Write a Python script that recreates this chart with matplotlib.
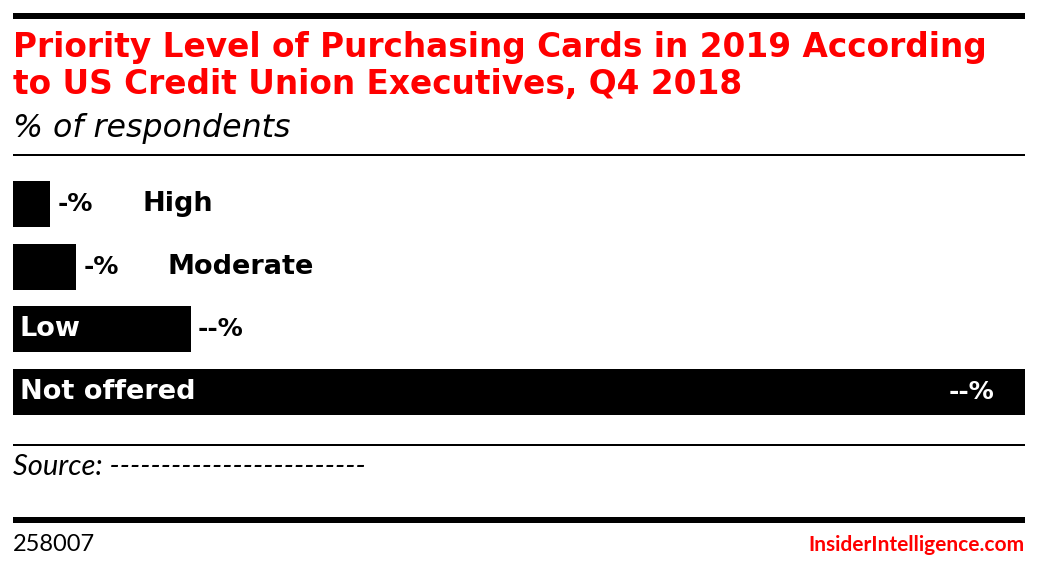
import matplotlib
matplotlib.use("Agg")
import matplotlib.pyplot as plt
from matplotlib.patches import Rectangle

categorias = ["High", "Moderate", "Low", "Not offered"]
valores = [2.9, 4.9, 13.8, 78.4]
rotulos_valor = ["-%", "-%", "--%", "--%"]

titulo = ["Priority Level of Purchasing Cards in 2019 According",
          "to US Credit Union Executives, Q4 2018"]
subtitulo = "% of respondents"
fonte = "Source: -------------------------"
codigo = "258007"
marca = "InsiderIntelligence.com"

W, H = 1038, 569
VERMELHO = "#ff0000"
plt.rcParams["font.family"] = ["DejaVu Sans"]

fig = plt.figure(figsize=(W / 100, H / 100), dpi=100)


def fy(py):
    return 1 - py / H


def fx(px):
    return px / W


def faixa(y0, y1, x0=13, x1=1025):
    fig.patches.append(Rectangle((fx(x0), fy(y1)), fx(x1) - fx(x0), fy(y0) - fy(y1),
                                 transform=fig.transFigure, color="black", lw=0))


# linhas horizontais
faixa(13, 19)
faixa(153.5, 155.5)
faixa(444, 446)
faixa(517, 523)

for linha, base in zip(titulo, [57, 94]):
    fig.text(fx(13), fy(base), linha, color=VERMELHO, fontsize=23.6, fontweight="bold",
             va="baseline", ha="left")
fig.text(fx(13), fy(137), subtitulo, fontsize=22.8, fontstyle="italic",
         va="baseline", ha="left")
fig.text(fx(13), fy(475), fonte, fontsize=21, fontstyle="italic",
         va="baseline", ha="left", family="Lato")
fig.text(fx(13), fy(551), codigo, fontsize=17, va="baseline", ha="left", family="Lato")
fig.text(fx(1025), fy(551), marca, fontsize=15, fontweight="bold", color=VERMELHO,
         va="baseline", ha="right", family="Lato")

# barras
ax = fig.add_axes([fx(13), fy(423), fx(1025) - fx(13), fy(173) - fy(423)])
ax.barh(range(len(valores)), valores, height=0.735, color="black")
ax.set_xlim(0, max(valores))
ax.set_ylim(len(valores) - 0.5, -0.5)
ax.axis("off")

px_por_unidade = 1012 / max(valores)
for i, (cat, v, rot) in enumerate(zip(categorias, valores, rotulos_valor)):
    largura_px = v * px_por_unidade
    if largura_px > 150:
        ax.annotate(cat, (0, i), xytext=(5, 0), textcoords="offset points",
                    color="white", fontsize=19.5, fontweight="bold", va="center", ha="left")
        if v == max(valores):
            ax.annotate(rot, (v, i), xytext=(-22, 0), textcoords="offset points",
                        color="white", fontsize=18, fontweight="bold", va="center", ha="right")
        else:
            ax.annotate(rot, (v, i), xytext=(5, 0), textcoords="offset points",
                        color="black", fontsize=18, fontweight="bold", va="center", ha="left")
    else:
        ax.annotate(rot, (v, i), xytext=(5, 0), textcoords="offset points",
                    color="black", fontsize=18, fontweight="bold", va="center", ha="left")
        ax.annotate(cat, (v, i), xytext=(66, 0), textcoords="offset points",
                    color="black", fontsize=19.5, fontweight="bold", va="center", ha="left")

fig.savefig("out.png", dpi=100)
